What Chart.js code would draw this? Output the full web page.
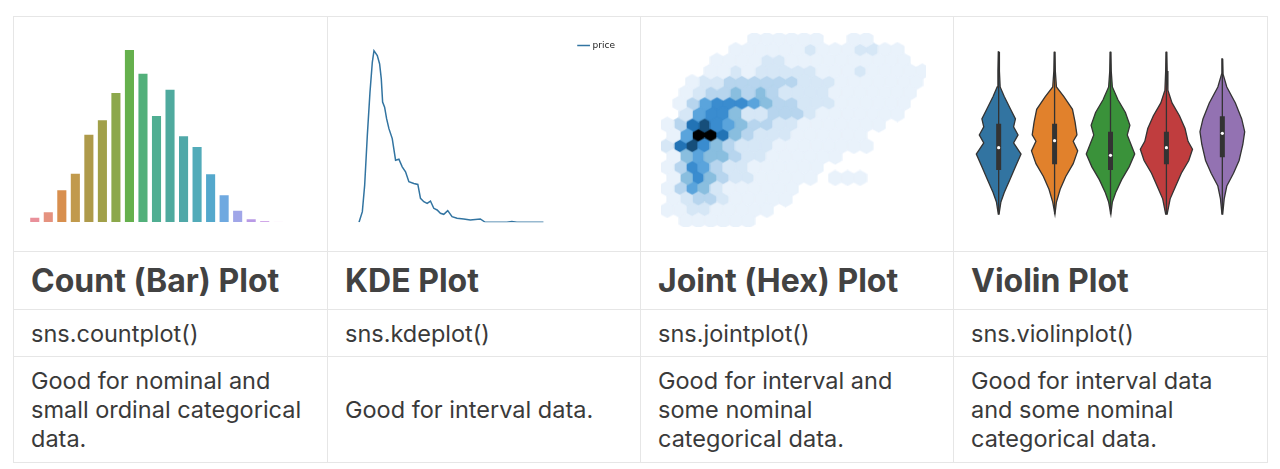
<!DOCTYPE html>
<html><head><meta charset="utf-8">
<script src="https://cdn.jsdelivr.net/npm/chart.js@4"></script>
<style>
body{margin:0;width:1280px;height:469px;background:#fff;font-family:Inter,"Noto Sans",sans-serif;position:relative;overflow:hidden}
.h{position:absolute;height:1px;background:#e6e6e6;left:13px;width:1255px}
.v{position:absolute;width:1px;background:#e6e6e6;top:16px;height:447px}
.cell{position:absolute;display:flex;align-items:center;padding-left:18px;box-sizing:border-box;color:#3a3a3a}
.t{font-weight:700;font-size:32px;color:#424242}
.c{font-size:23.5px}
.d{font-size:23.5px;line-height:29px}
canvas{position:absolute}
</style></head><body>
<div class="h" style="top:16px"></div><div class="h" style="top:251px"></div><div class="h" style="top:309px"></div><div class="h" style="top:356px"></div><div class="h" style="top:462px"></div>
<div class="v" style="left:13px"></div><div class="v" style="left:327px"></div><div class="v" style="left:640px"></div><div class="v" style="left:953px"></div><div class="v" style="left:1267px"></div>
<div id="cells"></div>
<div style="position:absolute;left:28px;top:40px;width:257px;height:182px"><canvas id="bar"></canvas></div>
<div style="position:absolute;left:340px;top:35px;width:285px;height:188px"><canvas id="kde"></canvas></div>
<div style="position:absolute;left:652px;top:24px;width:283px;height:212px"><canvas id="hex"></canvas></div>
<div style="position:absolute;left:960px;top:35px;width:301px;height:195px"><canvas id="vio"></canvas></div>
<script>
// ---- table text ----
const titles=["Count (Bar) Plot","KDE Plot","Joint (Hex) Plot","Violin Plot"];
const codes=["sns.countplot()","sns.kdeplot()","sns.jointplot()","sns.violinplot()"];
const descs=["Good for nominal and<br>small ordinal categorical<br>data.","Good for interval data.","Good for interval and<br>some nominal<br>categorical data.","Good for interval data<br>and some nominal<br>categorical data."];
const colX=[13,327,640,953,1267];
let html="";
for(let i=0;i<4;i++){const l=colX[i],w=colX[i+1]-colX[i];
html+=`<div class="cell t" style="left:${l}px;width:${w}px;top:252px;height:57px">${titles[i]}</div>`;
html+=`<div class="cell c" style="left:${l}px;width:${w}px;top:310px;height:46px">${codes[i]}</div>`;
html+=`<div class="cell d" style="left:${l}px;width:${w}px;top:357px;height:105px">${descs[i]}</div>`;}
document.getElementById('cells').innerHTML=html;
Chart.defaults.animation=false;Chart.defaults.responsive=true;Chart.defaults.maintainAspectRatio=false;
const hidden={display:false};

// ---- count plot ----
const barLabels=Array.from({length:19},(_,i)=>String(i+1));
const barValues=[16,32,98,148,265,308,390,519,448,321,400,260,228,146,83,37,11,4,1];
const barColors=['#e9909a','#e5927f','#d88f4e','#c19a4c','#ae9a4a','#a1a049','#8ca84b','#65b04d','#52b07a','#50ae92','#4faa9e','#50a8a8','#52abb9','#54a8cc','#6fa9e0','#a0a6e8','#b99ae6','#c28be0','#e8b0e8'];
new Chart(document.getElementById('bar'),{type:'bar',data:{labels:barLabels,datasets:[{data:barValues,backgroundColor:barColors,borderColor:'#fff',borderWidth:1,barPercentage:0.82,categoryPercentage:1}]},
options:{plugins:{legend:hidden,tooltip:{enabled:false}},layout:{padding:0},scales:{x:{display:false},y:{display:false,min:0,max:546}}}});

// ---- KDE ----
const kdeX=[55,65,72,80,88,95,100,110,117,122,126,132,138,145,155,165,175,185,195,205,220,232,240,250,260,270,280,290,300,310,322,335,350,370,390,420,435,500,515,530,610];
const kdeY=[0,32,112,262,392,482,517,502,477,432,362,347,312,282,252,187,190,167,152,122,117,114,72,62,57,64,42,37,27,24,35,17,12,10,7,10,0,0,2,0,0];
const kde=new Chart(document.getElementById('kde'),{type:'line',data:{datasets:[{label:'price',data:kdeX.map((x,i)=>({x,y:kdeY[i]})),borderColor:'#3274a1',borderWidth:1.5,pointRadius:0,tension:0,fill:false}]},
options:{plugins:{tooltip:{enabled:false},legend:{position:'right',align:'start',labels:{usePointStyle:true,pointStyle:'line',boxWidth:22,font:{size:9,family:'DejaVu Sans'},color:'#222',padding:6}}},layout:{padding:0},
scales:{x:{type:'linear',display:false,min:0,max:855},y:{display:false,min:0,max:562}}}});
// keep 3 price units per pixel regardless of legend width
kde.options.scales.x.max=(kde.chartArea.right-kde.chartArea.left)*3;kde.update();

// ---- hex ----
const hexRows=[
"000000011111100110000",
"000001111112111221100",
"000011112211111111110",
"000112122222111211111",
"001223333332221111111",
"012334343222211111110",
"013566654332221111110",
"025664223332111111100",
"137865433221111111000",
"159974322211111100000",
"278643222111111110000",
"145443221111110000000",
"136532211111100000000",
"146432211111011100000",
"135421111110000000000",
"123321111100000000000",
"112211111000000000000",
"011111100000000000000"];
const hexColors=['#ffffff','#e9f2fb','#d6e7f6','#b7d5ee','#89bedf','#5aa4dc','#3a8ccf','#2273b5','#164e7a','#000000'];
function hexImg(col){const r=7.8,w=Math.ceil(Math.sqrt(3)*r)+1,h=Math.ceil(2*r)+1;const c=document.createElement('canvas');c.width=w;c.height=h;const g=c.getContext('2d');g.beginPath();for(let k=0;k<6;k++){const a=Math.PI/3*k+Math.PI/6;const x=w/2+r*Math.cos(a),y=h/2+r*Math.sin(a);k?g.lineTo(x,y):g.moveTo(x,y);}g.closePath();g.fillStyle=col;g.fill();g.strokeStyle=col;g.lineWidth=0.6;g.stroke();return c;}
const hexDatasets=[];
for(let lv=1;lv<=9;lv++){const pts=[];hexRows.forEach((row,r)=>{[...row].forEach((ch,c)=>{if(+ch===lv)pts.push({x:c+(r%2?0.5:0),y:-r});});});
hexDatasets.push({data:pts,pointStyle:hexImg(hexColors[lv]),pointRadius:8});}
new Chart(document.getElementById('hex'),{type:'scatter',data:{datasets:hexDatasets},options:{plugins:{legend:hidden,tooltip:{enabled:false}},layout:{padding:0},scales:{x:{display:false,min:-0.5,max:20.8},y:{display:false,min:-17.6,max:0.6}}}});

// ---- violin ----
const vioColors=['#3274a1','#e1812c','#3a923a','#c03d3e','#9372b2'];
const vioProfiles=[
[[40,1],[100,2],[150,4],[180,15],[220,32],[250,45],[275,40],[300,52],[325,40],[360,60],[400,45],[440,30],[480,15],[510,6],[548,1]],
[[40,1],[100,2],[150,5],[180,25],[220,48],[260,55],[300,60],[320,50],[350,62],[390,50],[430,30],[470,15],[510,5],[548,1]],
[[40,1],[100,2],[150,5],[190,20],[230,40],[270,52],[300,45],[330,55],[360,65],[400,50],[440,30],[480,14],[510,5],[548,1]],
[[40,1],[100,2],[160,4],[200,15],[240,35],[280,50],[320,58],[345,70],[380,60],[420,40],[460,25],[500,10],[548,2]],
[[62,1],[110,2],[150,12],[200,35],[250,52],[290,60],[330,55],[380,45],[420,30],[460,12],[500,5],[548,1]]];
const vioQ1=[410,392,410,392,370],vioQ3=[265,265,290,290,242],vioMed=[340,318,364,340,295];
const V=z=>600-z, S=150;
const vds=[];
vioProfiles.forEach((p,i)=>{
 const right=p.map(([z,h])=>({x:i+h/S,y:V(z)}));
 const left=p.map(([z,h])=>({x:i-h/S,y:V(z)})).reverse();
 vds.push({data:right.concat(left,[right[0]]),borderColor:'#333',borderWidth:1.3,pointRadius:0,fill:'shape',backgroundColor:vioColors[i],order:10});
 vds.push({data:[{x:i,y:V(p[0][0])},{x:i,y:V(p[p.length-1][0])}],borderColor:'#333',borderWidth:1.3,pointRadius:0,fill:false,order:3});
 vds.push({data:[{x:i,y:V(vioQ3[i])},{x:i,y:V(vioQ1[i])}],borderColor:'#333',borderWidth:5,pointRadius:0,fill:false,order:2});
 vds.push({data:[{x:i,y:V(vioMed[i])}],showLine:false,pointRadius:1.6,pointBackgroundColor:'#fff',pointBorderWidth:0,order:1});
});
new Chart(document.getElementById('vio'),{type:'line',data:{datasets:vds},options:{plugins:{legend:hidden,tooltip:{enabled:false}},layout:{padding:0},scales:{x:{type:'linear',display:false,min:-0.62,max:4.62},y:{display:false,min:15,max:600}}}});
</script></body></html>
